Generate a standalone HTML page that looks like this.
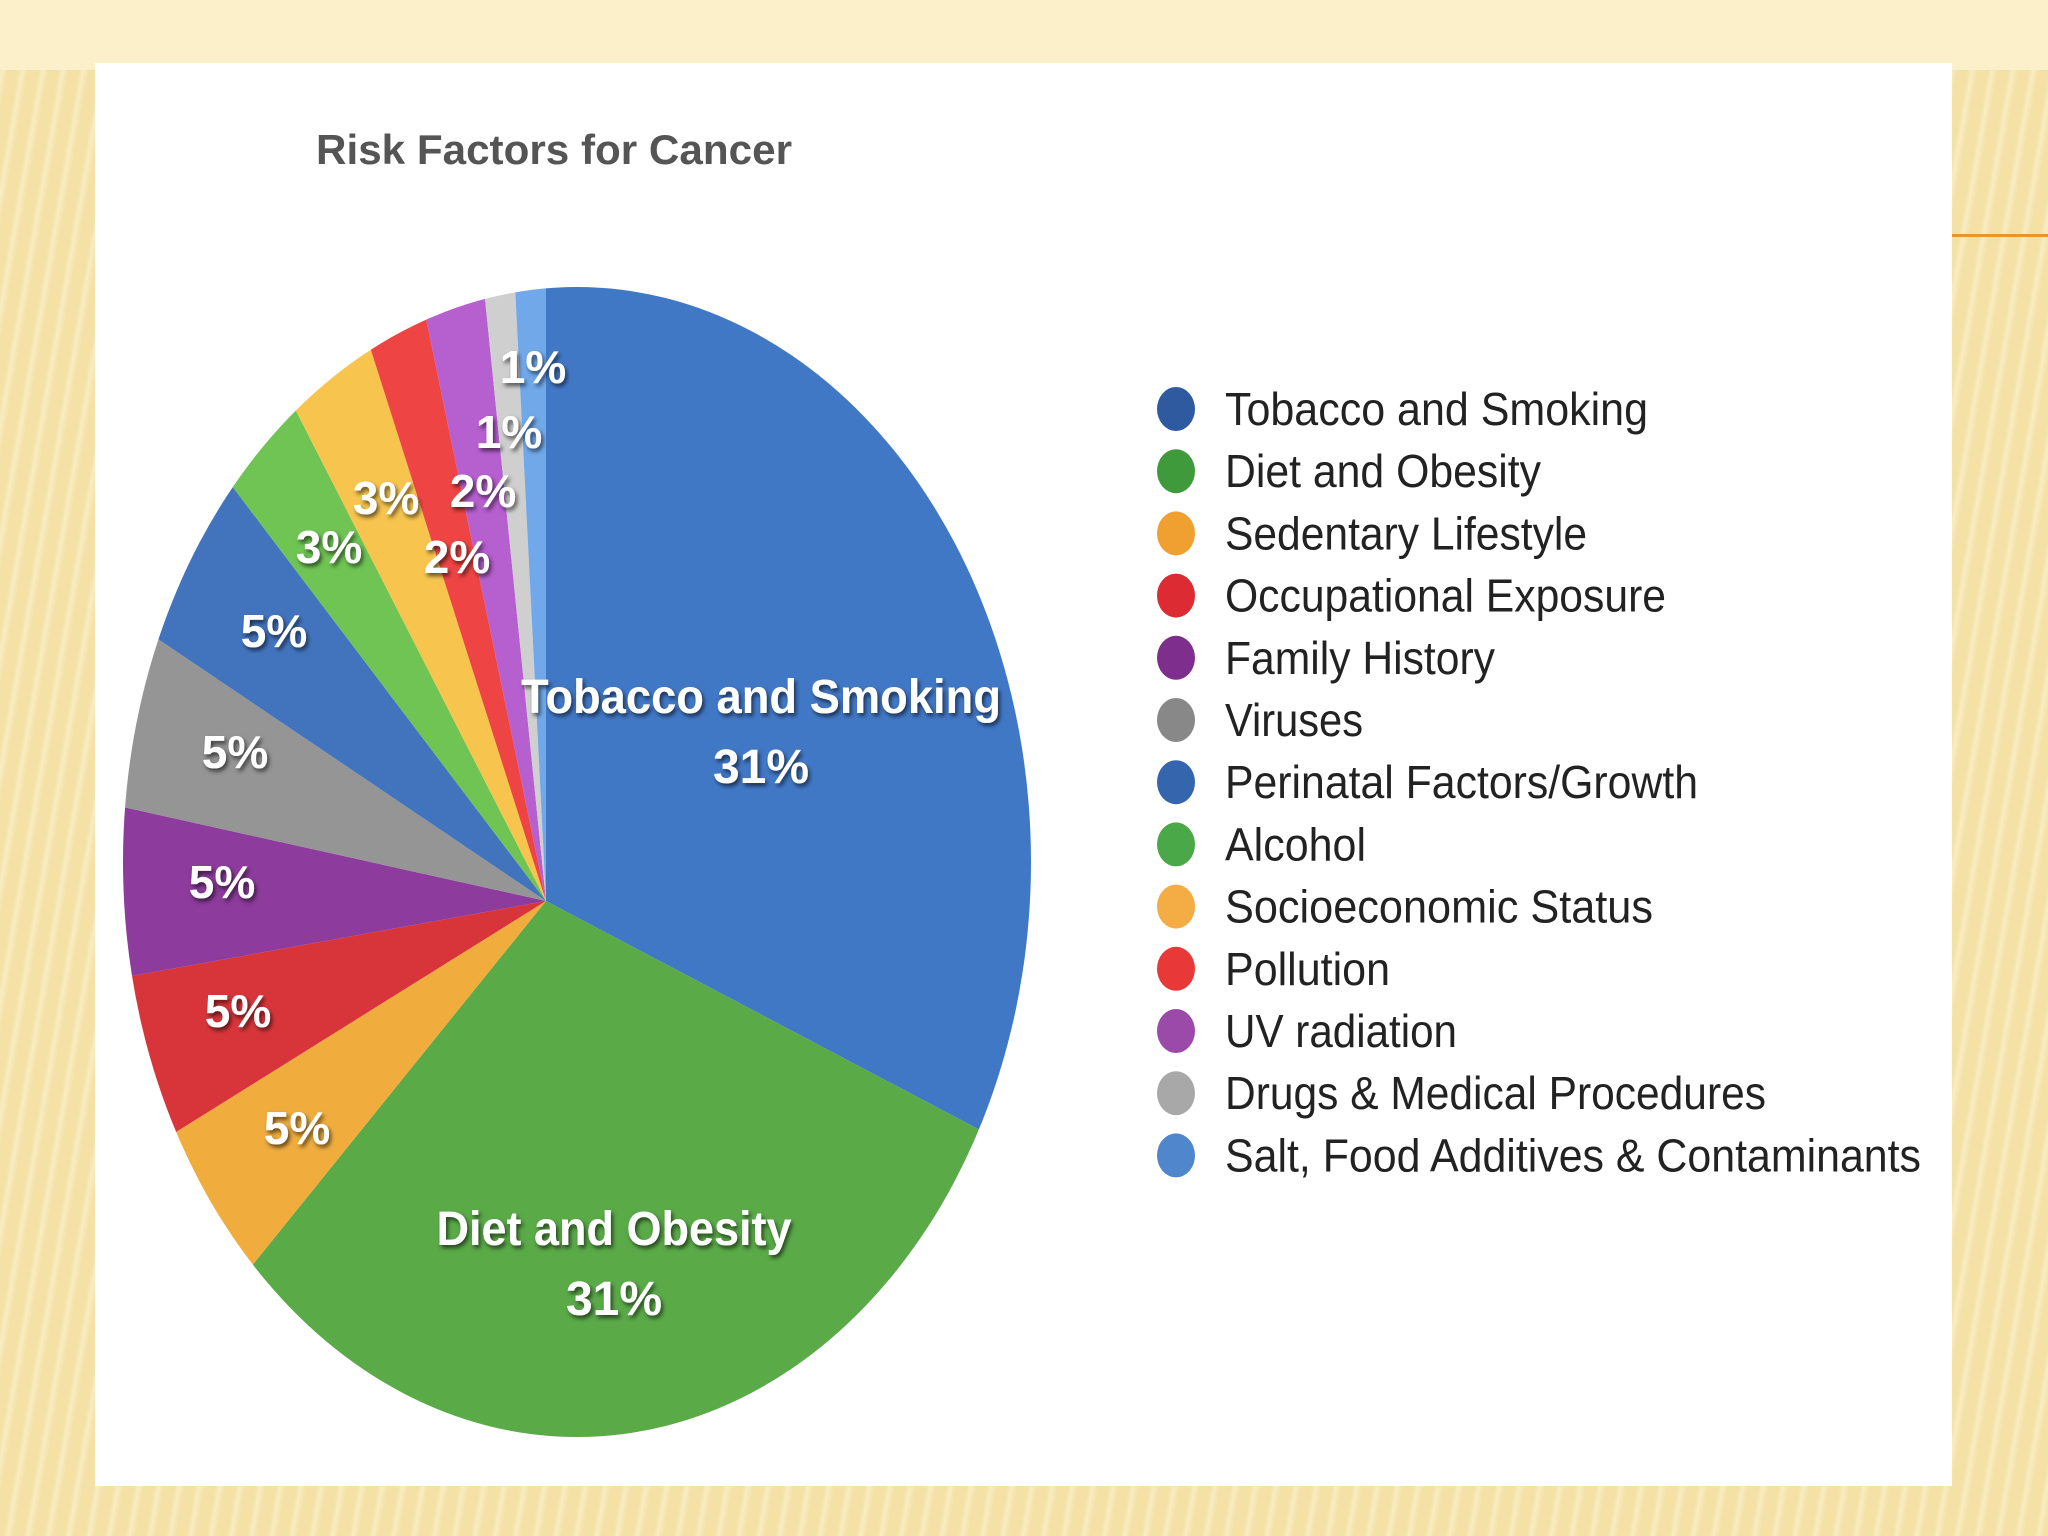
<!DOCTYPE html>
<html><head><meta charset="utf-8">
<style>
html,body{margin:0;padding:0;width:2048px;height:1536px;overflow:hidden;}
body{position:relative;font-family:"Liberation Sans",sans-serif;
background:repeating-linear-gradient(100deg,#f3e1a6 0px,#f3e1a6 10px,#f9ecc2 14px,#f3e1a6 20px);}
#topband{position:absolute;left:0;top:0;width:2048px;height:70px;background:#fcf0cb;}
#panel{position:absolute;left:95px;top:63px;width:1857px;height:1423px;background:#fff;}
#rule{position:absolute;left:1952px;top:234px;width:96px;height:3px;background:#e8962a;}
svg{position:absolute;left:0;top:0;display:block;}
</style></head>
<body>
<div id="topband"></div>
<div id="panel"></div>
<div id="rule"></div>
<svg id="chart" width="2048" height="1536">
<defs>
<clipPath id="ell"><ellipse cx="577" cy="862" rx="454" ry="575"/></clipPath>
<filter id="sh" x="-10%" y="-10%" width="120%" height="120%"><feDropShadow dx="2" dy="3" stdDeviation="2" flood-color="#000" flood-opacity="0.6"/></filter>
</defs>
<text x="316" y="164" font-size="42" font-weight="bold" fill="#555" textLength="476" lengthAdjust="spacingAndGlyphs">Risk Factors for Cancer</text>
<g id="slices" clip-path="url(#ell)"></g>
<g id="labels"></g>
<g id="legend"></g>
</svg>
<script>
const categories=["Tobacco and Smoking","Diet and Obesity","Sedentary Lifestyle","Occupational Exposure","Family History","Viruses","Perinatal Factors/Growth","Alcohol","Socioeconomic Status","Pollution","UV radiation","Drugs & Medical Procedures","Salt, Food Additives & Contaminants"];
const values=[31,31,5,5,5,5,5,3,3,2,2,1,1];
const colors=["#4178c6","#5aaa48","#f0ad3e","#d8353b","#8d3b9c","#959595","#4274bd","#6fc454","#f7c54e","#ee4444","#b65fcf","#cfcfcf","#70a8ea"];
const legendColors=["#2f5aa0","#3f9a3c","#f0a030","#dd2b33","#7e2f8e","#888888","#3465ad","#4aa848","#f4ad44","#e83838","#9b4aaa","#a8a8a8","#4f86cc"];
const legendWidths=[423,316,362,441,270,138,473,141,428,165,232,541,696];
const NS="http://www.w3.org/2000/svg";
const apexX=546,apexY=901,sy=1.26,R=1200;
const total=values.reduce((a,b)=>a+b,0);
function pt(deg,r){const a=deg*Math.PI/180;return [apexX+r*Math.sin(a),apexY-r*Math.cos(a)*sy];}
const sg=document.getElementById('slices');
let acc=0;
values.forEach((v,i)=>{
  const a0=acc/total*360,a1=(acc+v)/total*360;acc+=v;
  const steps=Math.max(2,Math.ceil((a1-a0)/5));
  let d=`M${apexX},${apexY}`;
  for(let s=0;s<=steps;s++){const p=pt(a0+(a1-a0)*s/steps,R);d+=` L${p[0].toFixed(1)},${p[1].toFixed(1)}`;}
  d+='Z';
  const p=document.createElementNS(NS,'path');
  p.setAttribute('d',d);p.setAttribute('fill',colors[i]);
  
  
  sg.appendChild(p);
});
const lg=document.getElementById('labels');
const bigLabels=[[761,713,0],[614,1245,1]];
function txt(parent,x,y,s,size,anchor,name){
  const t=document.createElementNS(NS,'text');
  t.setAttribute('x',x);t.setAttribute('y',y);t.setAttribute('font-size',size);
  t.setAttribute('font-weight','bold');t.setAttribute('fill','#fff');t.setAttribute('text-anchor',anchor);
  t.setAttribute('filter','url(#sh)');t.textContent=s;
  
  
  parent.appendChild(t);return t;}
bigLabels.forEach(b=>{
  const t=txt(lg,b[0],b[1],categories[b[2]],48,'middle','slice-label-name');
  t.setAttribute('textLength',b[2]===0?480:355);t.setAttribute('lengthAdjust','spacingAndGlyphs');
  txt(lg,b[0],b[1]+70,values[b[2]]+'%',48,'middle','slice-label-value');
});
const smallPos=[null,null,[297,1144],[238,1027],[222,898],[235,768],[274,647],[329,563],[386,514],[457,573],[483,507],[509,448],[533,383]];
smallPos.forEach((p,i)=>{if(!p)return;txt(lg,p[0],p[1],values[i]+'%',46,'middle','slice-label-value');});
const lgd=document.getElementById('legend');
categories.forEach((c,i)=>{
  const y=409+i*62.2;
  const ci=document.createElementNS(NS,'ellipse');
  ci.setAttribute('cx',1176);ci.setAttribute('cy',y);ci.setAttribute('rx',19);ci.setAttribute('ry',22);ci.setAttribute('fill',legendColors[i]);
  
  
  lgd.appendChild(ci);
  const t=document.createElementNS(NS,'text');
  t.setAttribute('x',1225);t.setAttribute('y',y+16);t.setAttribute('font-size',46);t.setAttribute('fill','#222');
  t.setAttribute('textLength',legendWidths[i]);t.setAttribute('lengthAdjust','spacingAndGlyphs');
  t.textContent=c;
  
  
  lgd.appendChild(t);
});
</script>
</body></html>
